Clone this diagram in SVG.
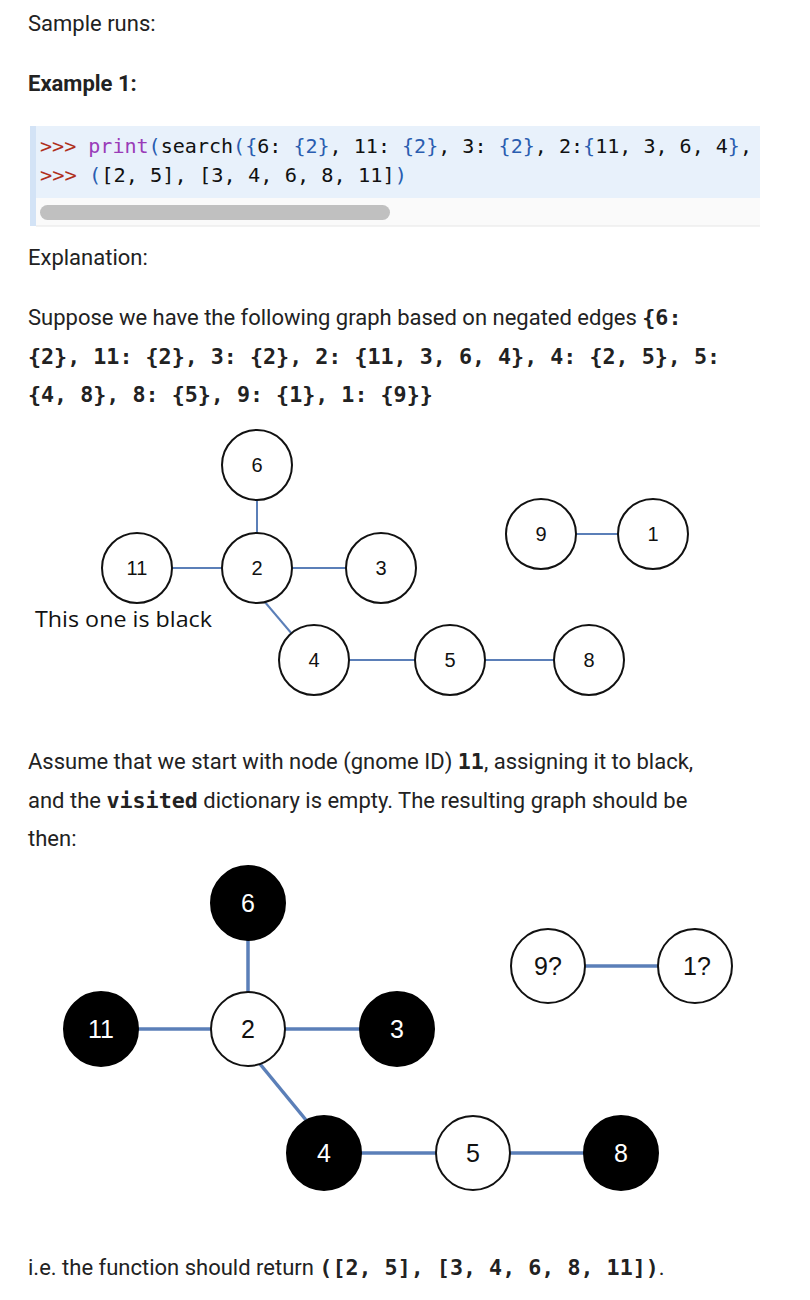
<svg xmlns="http://www.w3.org/2000/svg" width="810" height="1300" viewBox="0 0 810 1300">
<style>
.t{font-family:Roboto,"Liberation Sans",sans-serif;font-size:22px;fill:#222}
.m{font-family:"DejaVu Sans Mono","Liberation Mono",monospace;font-weight:bold;font-size:21.7px;fill:#222}
.c{font-family:"DejaVu Sans Mono","Liberation Mono",monospace;font-size:20px;fill:#111}
.r{fill:#b0301c}.p{fill:#9a3cb8}.b{fill:#2a5db0}
.n1 ellipse{fill:#fff;stroke:#111;stroke-width:2}
.n1 text{font-family:"Liberation Sans",sans-serif;font-size:20px;fill:#111;text-anchor:middle}
.w ellipse{fill:#fff;stroke:#111;stroke-width:2}
.k ellipse{fill:#000;stroke:#000;stroke-width:2}
.w text,.k text{font-family:"Liberation Sans",sans-serif;font-size:25px;text-anchor:middle}
.w text{fill:#111}.k text{fill:#fff}
.e1 line{stroke:#5b7fb8;stroke-width:2}
.e2 line{stroke:#5b7fb8;stroke-width:3.5}
</style>
<rect width="810" height="1300" fill="#fff"/>
<text class="t" x="28" y="31">Sample runs:</text>
<text class="t" x="28" y="91" font-weight="bold">Example 1:</text>
<rect x="30" y="126" width="730" height="72" fill="#e8f1fb"/>
<rect x="30" y="126" width="6" height="100" fill="#d3e3f6"/>
<rect x="36" y="198" width="724" height="28" fill="#fafafa"/>
<line x1="36" y1="226" x2="760" y2="226" stroke="#e6e6e6"/>
<rect x="40" y="205" width="350" height="15" rx="7.5" fill="#c0c0c0"/>
<text class="c" x="40" y="153" textLength="712" lengthAdjust="spacingAndGlyphs"><tspan class="r">&gt;&gt;&gt; </tspan><tspan class="p">print</tspan><tspan class="b">(</tspan>search<tspan class="b">({</tspan>6: <tspan class="b">{2}</tspan>, 11: <tspan class="b">{2}</tspan>, 3: <tspan class="b">{2}</tspan>, 2:<tspan class="b">{</tspan>11, 3, 6, 4<tspan class="b">}</tspan>,</text>
<text class="c" x="40" y="182" textLength="367" lengthAdjust="spacingAndGlyphs"><tspan class="r">&gt;&gt;&gt; </tspan><tspan class="b">(</tspan>[2, 5], [3, 4, 6, 8, 11]<tspan class="b">)</tspan></text>
<text class="t" x="28" y="265">Explanation:</text>
<text class="t" x="28" y="325">Suppose we have the following graph based on negated edges <tspan class="m">{6:</tspan></text>
<text class="m" x="28" y="364">{2}, 11: {2}, 3: {2}, 2: {11, 3, 6, 4}, 4: {2, 5}, 5:</text>
<text class="m" x="28" y="402">{4, 8}, 8: {5}, 9: {1}, 1: {9}}</text>
<g class="e1">
<line x1="257" y1="500" x2="257" y2="533"/>
<line x1="172" y1="568" x2="222" y2="568"/>
<line x1="292" y1="568" x2="346" y2="568"/>
<line x1="264" y1="601" x2="292" y2="634"/>
<line x1="349" y1="660" x2="415" y2="660"/>
<line x1="485" y1="660" x2="554" y2="660"/>
<line x1="576" y1="534" x2="618" y2="534"/>
</g>
<g id="g1-6" class="n1"><ellipse cx="257" cy="465" rx="35" ry="35"/><text x="257" y="472">6</text></g>
<g id="g1-11" class="n1"><ellipse cx="137" cy="568" rx="35" ry="35"/><text x="137" y="575">11</text></g>
<g id="g1-2" class="n1"><ellipse cx="257" cy="568" rx="35" ry="35"/><text x="257" y="575">2</text></g>
<g id="g1-3" class="n1"><ellipse cx="381" cy="568" rx="35" ry="35"/><text x="381" y="575">3</text></g>
<g id="g1-9" class="n1"><ellipse cx="541" cy="534" rx="35" ry="35"/><text x="541" y="541">9</text></g>
<g id="g1-1" class="n1"><ellipse cx="653" cy="534" rx="35" ry="35"/><text x="653" y="541">1</text></g>
<g id="g1-4" class="n1"><ellipse cx="314" cy="660" rx="35" ry="35"/><text x="314" y="667">4</text></g>
<g id="g1-5" class="n1"><ellipse cx="450" cy="660" rx="35" ry="35"/><text x="450" y="667">5</text></g>
<g id="g1-8" class="n1"><ellipse cx="589" cy="660" rx="35" ry="35"/><text x="589" y="667">8</text></g>
<text x="35" y="627" font-family="'Open Sans','Liberation Sans',sans-serif" font-size="21" fill="#111" textLength="177" lengthAdjust="spacingAndGlyphs">This one is black</text>
<text class="t" x="28" y="769">Assume that we start with node (gnome ID) <tspan class="m">11</tspan>, assigning it to black,</text>
<text class="t" x="28" y="808">and the <tspan class="m">visited</tspan> dictionary is empty. The resulting graph should be</text>
<text class="t" x="28" y="846">then:</text>
<g class="e2">
<line x1="248" y1="940" x2="248" y2="992"/>
<line x1="138" y1="1029" x2="211" y2="1029"/>
<line x1="285" y1="1029" x2="360" y2="1029"/>
<line x1="260" y1="1064" x2="306" y2="1120"/>
<line x1="361" y1="1153" x2="436" y2="1153"/>
<line x1="510" y1="1153" x2="584" y2="1153"/>
<line x1="585" y1="966" x2="658" y2="966"/>
</g>
<g id="g2-6" class="k"><ellipse cx="248" cy="903" rx="37" ry="37"/><text x="248" y="912">6</text></g>
<g id="g2-11" class="k"><ellipse cx="101" cy="1029" rx="37" ry="37"/><text x="101" y="1038">11</text></g>
<g id="g2-2" class="w"><ellipse cx="248" cy="1029" rx="37" ry="37"/><text x="248" y="1038">2</text></g>
<g id="g2-3" class="k"><ellipse cx="397" cy="1029" rx="37" ry="37"/><text x="397" y="1038">3</text></g>
<g id="g2-9" class="w"><ellipse cx="548" cy="966" rx="37" ry="37"/><text x="548" y="975">9?</text></g>
<g id="g2-1" class="w"><ellipse cx="695" cy="966" rx="37" ry="37"/><text x="697" y="975">1?</text></g>
<g id="g2-4" class="k"><ellipse cx="324" cy="1153" rx="37" ry="37"/><text x="324" y="1162">4</text></g>
<g id="g2-5" class="w"><ellipse cx="473" cy="1153" rx="37" ry="37"/><text x="473" y="1162">5</text></g>
<g id="g2-8" class="k"><ellipse cx="621" cy="1153" rx="37" ry="37"/><text x="621" y="1162">8</text></g>
<text class="t" x="28" y="1275">i.e. the function should return <tspan class="m">([2, 5], [3, 4, 6, 8, 11])</tspan>.</text>
</svg>
